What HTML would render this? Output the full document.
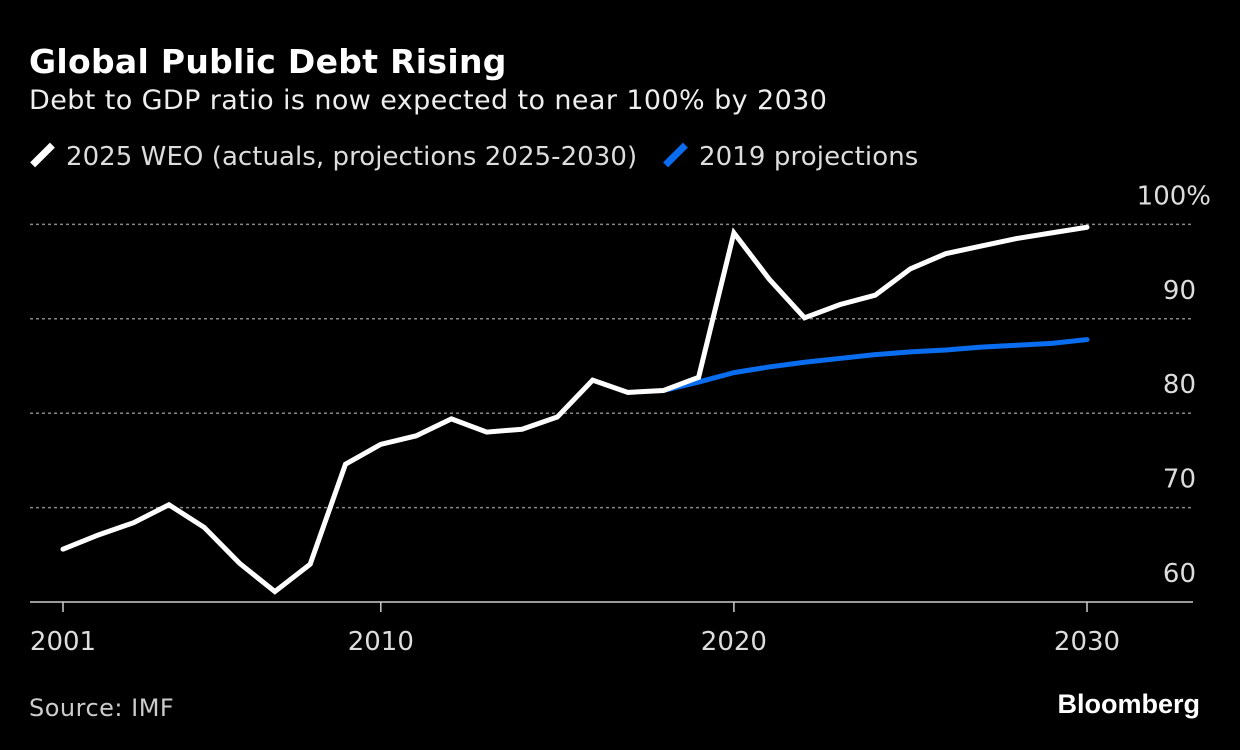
<!DOCTYPE html>
<html><head><meta charset="utf-8"><style>
html,body{margin:0;padding:0;background:#000;}
body{width:1240px;height:750px;overflow:hidden;position:relative;font-family:"DejaVu Sans","Liberation Sans",sans-serif;color:#fff;}
.t{position:absolute;white-space:nowrap;}
</style></head><body>
<div class="t" style="left:29px;top:42px;font-size:33px;font-weight:bold;letter-spacing:0.3px;">Global Public Debt Rising</div>
<div class="t" style="left:29px;top:85px;font-size:27px;letter-spacing:0.4px;color:#eee;">Debt to GDP ratio is now expected to near 100% by 2030</div>
<div class="t" style="left:29px;top:141px;font-size:26px;letter-spacing:0.05px;color:#ddd;"><span style="display:inline-block;width:7px;height:28px;background:#fff;transform:rotate(45deg);vertical-align:-4px;margin:0 20px 0 10px;"></span>2025 WEO (actuals, projections 2025-2030)</div>
<div class="t" style="left:662px;top:141px;font-size:26px;letter-spacing:0.1px;color:#ddd;"><span style="display:inline-block;width:7px;height:28px;background:#0a6df0;transform:rotate(45deg);vertical-align:-4px;margin:0 20px 0 10px;"></span>2019 projections</div>
<div class="t" style="left:29px;top:694px;font-size:24px;letter-spacing:0.5px;color:#ccc;">Source: IMF</div>
<div class="t" style="right:40px;top:689px;font-size:27px;font-weight:bold;font-family:'Liberation Sans',sans-serif;">Bloomberg</div>
<svg id="chart" width="1240" height="750" style="position:absolute;left:0;top:0;"></svg>
<script>
const years=[2001,2002,2003,2004,2005,2006,2007,2008,2009,2010,2011,2012,2013,2014,2015,2016,2017,2018,2019,2020,2021,2022,2023,2024,2025,2026,2027,2028,2029,2030];
const weo2025=[65.6,67.1,68.4,70.3,67.9,64.1,61.1,64.0,74.6,76.7,77.6,79.4,78.0,78.3,79.6,83.5,82.2,82.4,83.8,99.1,94.2,90.1,91.5,92.5,95.3,96.9,97.7,98.5,99.1,99.7];
const years2019=[2018,2019,2020,2021,2022,2023,2024,2025,2026,2027,2028,2029,2030];
const proj2019=[82.4,83.3,84.3,84.9,85.4,85.8,86.2,86.5,86.7,87.0,87.2,87.4,87.8];
const yTicks=[60,70,80,90,100];
const yTickLabels=["60","70","80","90","100%"];
const xTicks=[2001,2010,2020,2030];
const NS="http://www.w3.org/2000/svg";
const svg=document.getElementById('chart');
const x=v=>63+(v-2001)*(1024/29);
const y=v=>602-(v-60)*9.44;
function mk(tag,attrs){const e=document.createElementNS(NS,tag);for(const k in attrs)e.setAttribute(k,attrs[k]);svg.appendChild(e);return e;}
yTicks.forEach((t,i)=>{
  if(t>60){const g=mk('line',{x1:30,x2:1193,y1:y(t),y2:y(t),stroke:'#888','stroke-width':1.5,'stroke-dasharray':'3,3'});
  
  }
  const l=mk('text',{x:(t===100?1211:1196),y:y(t)-20,'text-anchor':'end','font-size':26,fill:'#ddd'});
  l.textContent=yTickLabels[i];
  
  
});
const ax=mk('line',{x1:30,x2:1193,y1:602,y2:602,stroke:'#ccc','stroke-width':1.5});


xTicks.forEach(t=>{
  const tk=mk('line',{x1:x(t),x2:x(t),y1:602,y2:612,stroke:'#ccc','stroke-width':1.5});
  
  
  const l=mk('text',{x:x(t),y:650,'text-anchor':'middle','font-size':26,fill:'#ddd'});
  l.textContent=t;
  
  
});
const p2=mk('polyline',{points:years2019.map((v,i)=>x(v)+','+y(proj2019[i])).join(' '),fill:'none',stroke:'#0a6df0','stroke-width':5,'stroke-linejoin':'round','stroke-linecap':'round'});


const p1=mk('polyline',{points:years.map((v,i)=>x(v)+','+y(weo2025[i])).join(' '),fill:'none',stroke:'#fff','stroke-width':5,'stroke-linejoin':'miter','stroke-linecap':'round'});


</script>
</body></html>
